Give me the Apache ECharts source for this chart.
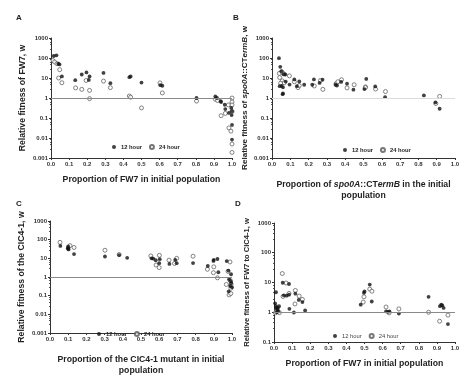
<!DOCTYPE html>
<html>
<head>
<meta charset="utf-8">
<script src="https://cdn.jsdelivr.net/npm/echarts@6/dist/echarts.min.js"></script>
<style>
html,body{margin:0;padding:0;background:#fff;}
#main{width:474px;height:377px;}
</style>
</head>
<body>
<div id="main"></div>
<script>
// Panel A: FW7 vs wild type
var a12 = [[0.015,126],[0.03,136],[0.04,52],[0.047,48],[0.06,12],[0.134,7.8],[0.17,15],[0.196,19],[0.213,12],[0.209,8],
	[0.29,18],[0.328,5.5],[0.433,11],[0.44,12],[0.5,5.9],[0.604,4.4],[0.615,4.1],[0.804,1.0],[0.908,1.2],[0.917,1.0],
	[0.937,0.7],[0.94,0.63],[0.96,0.46],[0.963,0.28],[0.983,0.18],[0.996,0.32],[1.0,0.22],[0.998,0.14],[1.0,0.045],[1.0,0.0083]];
var a24 = [[0.011,74],[0.02,63],[0.033,52],[0.048,26],[0.042,10],[0.06,5.8],[0.136,3.2],[0.17,2.7],[0.194,7.5],[0.213,2.4],
	[0.213,0.93],[0.29,7],[0.328,3.3],[0.433,1.26],[0.44,1.1],[0.5,0.32],[0.602,5.7],[0.615,1.8],[0.804,0.7],[0.908,0.86],
	[0.92,0.75],[0.94,0.13],[0.963,0.17],[0.98,0.45],[0.983,0.032],[0.994,0.022],[1.0,1.0],[1.0,0.63],[1.0,0.45],[1.0,0.21],
	[1.0,0.005],[1.0,0.0019]];
// Panel B: spo0A::CTermB
var b12 = [[0.038,98],[0.045,36],[0.051,22],[0.064,15.6],[0.073,15],[0.042,3.9],[0.053,4],[0.06,3.4],[0.058,1.55],[0.06,1.7],
	[0.075,6.6],[0.096,4.7],[0.122,8.5],[0.149,6.7],[0.136,3.9],[0.176,4.6],[0.22,4.6],[0.229,8.5],[0.26,5.7],[0.276,8.2],
	[0.347,4.6],[0.355,4.2],[0.378,6.4],[0.41,5.2],[0.445,2.6],[0.505,2.8],[0.515,9],[0.564,3.8],[0.618,1.1],[0.83,1.35],
	[0.893,0.6],[0.916,0.29]];
var b24 = [[0.04,17],[0.055,20],[0.064,16],[0.056,7.2],[0.067,5.8],[0.047,5.5],[0.042,10.5],[0.095,12.8],[0.122,6.5],[0.142,3.3],
	[0.149,4.2],[0.231,4],[0.265,7.5],[0.278,2.7],[0.351,5.3],[0.36,6.5],[0.38,8.2],[0.41,3.2],[0.449,4.6],[0.511,3.6],
	[0.51,3.3],[0.566,2.8],[0.62,2.1],[0.895,0.53],[0.916,1.2]];
// Panel C: CIC4-1 mutant
var c12 = [[0.057,46],[0.1,43],[0.098,35],[0.102,30],[0.1,33],[0.132,17],[0.302,12.5],[0.38,15],[0.424,10.7],[0.558,10],
	[0.567,9.7],[0.581,7.9],[0.603,9],[0.6,5.5],[0.656,5],[0.688,8.3],[0.696,5.5],[0.786,5.6],[0.867,3.9],[0.898,7.3],
	[0.9,8.3],[0.92,9.2],[0.925,1.8],[0.971,7.1],[0.98,2.2],[0.984,0.76],[0.993,0.6],[0.996,0.47],[0.99,0.33],[0.982,0.17],
	[0.995,1.4],[1.0,0.28]];
var c24 = [[0.055,72],[0.11,48],[0.132,38],[0.302,27],[0.38,16],[0.554,13.5],[0.601,14.5],[0.583,4.4],[0.6,3.2],[0.654,8],
	[0.684,5.3],[0.696,10],[0.786,13],[0.865,2.6],[0.9,3.5],[0.898,1.7],[0.92,0.9],[0.978,2.0],[0.989,6.4],[0.969,0.4],
	[0.984,0.11],[0.993,0.13],[0.995,0.4],[0.99,0.65],[0.994,0.25]];
// Panel D: FW7 vs CIC4-1
var d12 = [[0.006,2.0],[0.011,4.7],[0.011,1.6],[0.013,1.4],[0.018,1.25],[0.022,1.4],[0.028,1.6],[0.024,1.07],[0.015,1.0],[0.048,9.8],
	[0.054,3.7],[0.07,3.6],[0.083,3.9],[0.083,8.9],[0.085,1.3],[0.11,0.98],[0.118,4.2],[0.137,2.6],[0.157,2.2],[0.172,1.15],
	[0.479,1.8],[0.497,4.5],[0.5,5],[0.529,8.5],[0.54,2.3],[0.619,1.07],[0.63,1.03],[0.638,1.07],[0.69,0.9],[0.854,3.3],
	[0.917,1.6],[0.924,1.8],[0.93,1.7],[0.937,1.4],[0.961,0.4]];
var d24 = [[0.046,20],[0.067,9.6],[0.083,4.3],[0.05,3.4],[0.013,1.1],[0.008,0.95],[0.03,0.97],[0.116,1.9],[0.118,5.4],[0.139,3.5],
	[0.157,2.7],[0.497,3.3],[0.493,2.2],[0.529,6],[0.541,5.1],[0.619,1.5],[0.636,0.95],[0.69,1.3],[0.854,1.0],[0.915,0.5],
	[0.961,0.8]];

var grids = [
	{left:51, top:38, width:181, height:120},
	{left:272, top:38, width:183, height:120},
	{left:50, top:221, width:182, height:121},
	{left:274, top:223, width:181, height:119}
];

var yNames = [
	'Relative fitness of FW7, w',
	'{n|Relative fitness of }{i|spo0A}{n|::CT}{i|ermB}{n|, w}',
	'Relative fitness of the CIC4-1, w',
	'Relative fitness of FW7 to CIC4-1, w'
];
var xNames = [
	'Proportion of FW7 in initial population',
	'{n|Proportion of }{i|spo0A}{n|::CT}{i|ermB}{n| in the initial}\n{n|population}',
	'Proportion of the CIC4-1 mutant in initial\npopulation',
	'Proportion of FW7 in initial population'
];
var xGaps = [16, 21, 21, 16];
var yGaps = [23, 22, 23, 22];
var yNameSizes = [8.7, 8.1, 8.7, 7.6];
var yMins = [0.001, 0.001, 0.001, 0.1];
var lineColors = ['#8a8a8a', '#dcdcdc', '#8a8a8a', '#8a8a8a'];
var legendPos = [[107,139],[338,142],[92,326],[328,328]];

function makeNameStyle(size){
	return {
		fontFamily:'Liberation Sans', fontWeight:'bold', fontSize:size, color:'#222', lineHeight:11,
		rich:{
			n:{fontFamily:'Liberation Sans', fontWeight:'bold', fontSize:size, color:'#222', lineHeight:11},
			i:{fontFamily:'Liberation Sans', fontWeight:'bold', fontStyle:'italic', fontSize:size, color:'#222', lineHeight:11}
		}
	};
}

var xAxes = [], yAxes = [], series = [], legends = [];
grids.forEach(function(g, i){
	xAxes.push({
		gridIndex:i, type:'value', min:0, max:1, interval:0.1,
		name:xNames[i], nameLocation:'middle', nameGap:xGaps[i], nameTextStyle:makeNameStyle(8.7),
		axisLine:{lineStyle:{color:'#333', width:1}},
		axisTick:{length:2, lineStyle:{color:'#333'}},
		axisLabel:{fontSize:6, fontWeight:'bold', color:'#333', margin:3, fontFamily:'Liberation Sans',
			formatter:function(v){ return v.toFixed(1); }},
		splitLine:{show:false}
	});
	yAxes.push({
		gridIndex:i, type:'log', logBase:10, min:yMins[i], max:1000,
		name:yNames[i], nameLocation:'middle', nameGap:yGaps[i], nameTextStyle:makeNameStyle(yNameSizes[i]),
		axisLine:{show:true, lineStyle:{color:'#333', width:1}},
		axisTick:{show:true, length:2, lineStyle:{color:'#333'}},
		minorTick:{show:true, splitNumber:5, length:1, lineStyle:{color:'#555'}},
		axisLabel:{fontSize:6, fontWeight:'bold', color:'#333', margin:3, fontFamily:'Liberation Sans',
			formatter:function(v){ return String(+(+v).toPrecision(1)); }},
		splitLine:{show:false}
	});
	legends.push({
		left:legendPos[i][0], top:legendPos[i][1], itemWidth:4, itemHeight:4, itemGap:7,
		data:['12 hour','24 hour'], selectedMode:false,
		textStyle:{fontSize:5.8, fontWeight:(i == 3 ? 'normal' : 'bold'), color:(i == 3 ? '#444' : '#222'), fontFamily:'Liberation Sans'}
	});
});

var sets = [[a12,a24],[b12,b24],[c12,c24],[d12,d24]];
sets.forEach(function(s, i){
	series.push({
		name:'12 hour', type:'scatter', xAxisIndex:i, yAxisIndex:i, data:s[0],
		symbol:'circle', symbolSize:3.8, itemStyle:{color:'#111'},
		markLine:{silent:true, symbol:'none', label:{show:false},
			lineStyle:{color:lineColors[i], type:'solid', width:1}, data:[{yAxis:1}]},
		z:3
	});
	series.push({
		name:'24 hour', type:'scatter', xAxisIndex:i, yAxisIndex:i, data:s[1],
		symbol:'circle', symbolSize:4, itemStyle:{color:'#fff', borderColor:'#555', borderWidth:0.9},
		z:2
	});
});

var myChart = echarts.init(document.getElementById('main'));
var option = {
	animation:false,
	backgroundColor:'#fff',
	grid:grids,
	xAxis:xAxes,
	yAxis:yAxes,
	legend:legends,
	series:series,
	graphic:[
		{type:'text', left:16, top:14, style:{text:'A', font:'bold 8px Liberation Sans', fill:'#222'}},
		{type:'text', left:233, top:14, style:{text:'B', font:'bold 8px Liberation Sans', fill:'#222'}},
		{type:'text', left:16, top:200, style:{text:'C', font:'bold 8px Liberation Sans', fill:'#222'}},
		{type:'text', left:235, top:200, style:{text:'D', font:'bold 8px Liberation Sans', fill:'#222'}}
	]
};
myChart.setOption(option);
</script>
</body>
</html>
